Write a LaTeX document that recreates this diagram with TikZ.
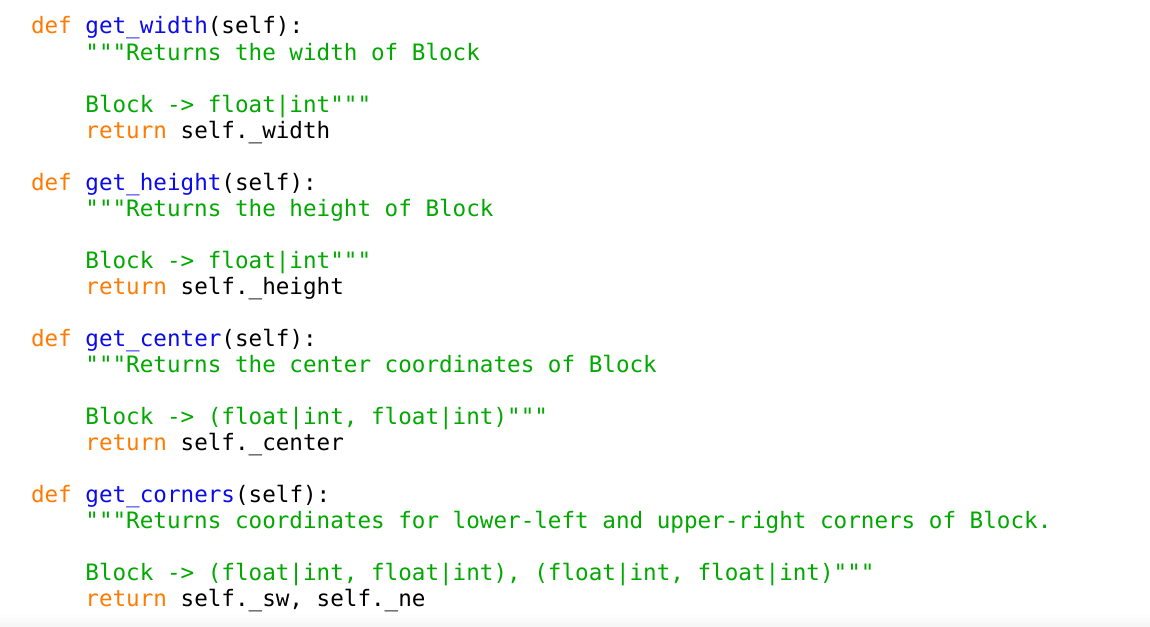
\documentclass[tikz,border=0pt]{standalone}
\usepackage{fontspec}
\newfontfamily\codefont{DejaVu Sans Mono}
\definecolor{kwcol}{RGB}{255,122,0}
\definecolor{fncol}{RGB}{10,10,235}
\definecolor{strcol}{RGB}{0,168,0}
\definecolor{txtcol}{RGB}{0,0,0}
\newcommand{\kwd}[1]{\textcolor{kwcol}{#1}}
\newcommand{\fnm}[1]{\textcolor{fncol}{#1}}
\newcommand{\strg}[1]{\textcolor{strcol}{#1}}
\tikzset{
  codeline/.style={anchor=base west, inner sep=0pt, outer sep=0pt, text=txtcol,
    font=\codefont\fontsize{22.6pt}{26pt}\selectfont},
}
\begin{document}
\begin{tikzpicture}[x=1pt,y=1pt]
\useasboundingbox (0,0) rectangle (1150,-626);
\fill[white] (0,0) rectangle (1150,-626);
\shade[top color=white, bottom color=black!4] (0,-613) rectangle (1150,-626);
\def\xa{31}
\def\xb{85.4}
% block 1
\node[codeline] (l0) at (\xa,-34) {\kwd{def} \fnm{get\_width}(self):};
\node[codeline] (l1) at (\xb,-60) {\strg{"""Returns the width of Block}};
\node[codeline] (l3) at (\xb,-112) {\strg{Block -> float|int"""}};
\node[codeline] (l4) at (\xb,-138) {\kwd{return} self.\_width};
% block 2
\node[codeline] (l6) at (\xa,-190) {\kwd{def} \fnm{get\_height}(self):};
\node[codeline] (l7) at (\xb,-216) {\strg{"""Returns the height of Block}};
\node[codeline] (l9) at (\xb,-268) {\strg{Block -> float|int"""}};
\node[codeline] (l10) at (\xb,-294) {\kwd{return} self.\_height};
% block 3
\node[codeline] (l12) at (\xa,-346) {\kwd{def} \fnm{get\_center}(self):};
\node[codeline] (l13) at (\xb,-372) {\strg{"""Returns the center coordinates of Block}};
\node[codeline] (l15) at (\xb,-424) {\strg{Block -> (float|int, float|int)"""}};
\node[codeline] (l16) at (\xb,-450) {\kwd{return} self.\_center};
% block 4
\node[codeline] (l18) at (\xa,-502) {\kwd{def} \fnm{get\_corners}(self):};
\node[codeline] (l19) at (\xb,-528) {\strg{"""Returns coordinates for lower-left and upper-right corners of Block.}};
\node[codeline] (l21) at (\xb,-580) {\strg{Block -> (float|int, float|int), (float|int, float|int)"""}};
\node[codeline] (l22) at (\xb,-606) {\kwd{return} self.\_sw, self.\_ne};
\end{tikzpicture}
\end{document}
